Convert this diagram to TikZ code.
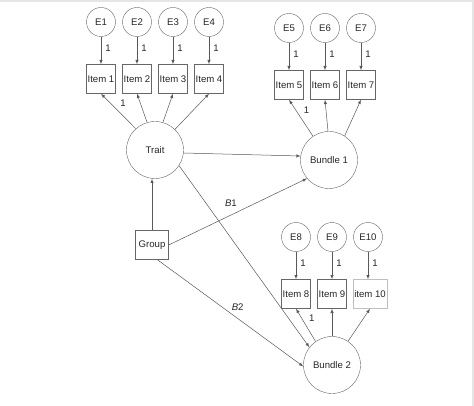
\documentclass[tikz,border=0pt]{standalone}
\usepackage{fontspec}
\setmainfont{Liberation Sans}
\usepackage{tikz}
\usetikzlibrary{arrows}

\begin{document}
\begin{tikzpicture}[x=1pt,y=-1pt,
    font=\fontsize{9.6}{11}\selectfont, text=black!85,
    lat/.style={circle,draw=black!60,minimum size=57pt,inner sep=0},
    err/.style={circle,draw=black!60,minimum size=29pt,inner sep=0},
    obs/.style={rectangle,draw=black!60,minimum width=29pt,minimum height=29pt,inner sep=0.5pt},
    arr/.style={draw=black!65,line width=0.5pt,-latex},
    lbl/.style={inner sep=1pt}]
    \useasboundingbox (0,0) rectangle (474,406);
    \fill[white] (0,0) rectangle (474,406);
    \fill[black!10] (0,0) rectangle (474,2);
    \fill[black!10] (472,0) rectangle (474,406);

    \node[err] (e1) at (101,22) {E1};
    \node[err] (e2) at (137,22) {E2};
    \node[err] (e3) at (173,22) {E3};
    \node[err] (e4) at (209,22) {E4};
    \node[obs] (item1) at (101,79) {Item 1};
    \node[obs] (item2) at (137,79) {Item 2};
    \node[obs] (item3) at (173,79) {Item 3};
    \node[obs] (item4) at (209,79) {Item 4};

    \node[err] (e5) at (289,28) {E5};
    \node[err] (e6) at (325,28) {E6};
    \node[err] (e7) at (361,28) {E7};
    \node[obs] (item5) at (289,85) {Item 5};
    \node[obs] (item6) at (325,85) {Item 6};
    \node[obs] (item7) at (361,85) {Item 7};

    \node[err] (e8) at (296,237) {E8};
    \node[err] (e9) at (332,237) {E9};
    \node[err] (e10) at (368,237) {E10};
    \node[obs] (item8) at (296,294) {Item 8};
    \node[obs] (item9) at (332,294) {Item 9};
    \node[obs,draw=black!25,minimum width=34pt] (item10) at (370,294) {item 10};

    \node[lat] (trait) at (155,150) {Trait};
    \node[lat] (bundle1) at (329,160) {Bundle 1};
    \node[lat] (bundle2) at (332,365) {Bundle 2};
    \node[obs,minimum width=33pt] (group) at (152,245) {Group};

    \draw[arr] (e1) -- (item1) node[lbl,pos=0.4,right=3pt] {1};
    \draw[arr] (e2) -- (item2) node[lbl,pos=0.4,right=3pt] {1};
    \draw[arr] (e3) -- (item3) node[lbl,pos=0.4,right=3pt] {1};
    \draw[arr] (e4) -- (item4) node[lbl,pos=0.4,right=3pt] {1};
    \draw[arr] (e5) -- (item5) node[lbl,pos=0.4,right=3pt] {1};
    \draw[arr] (e6) -- (item6) node[lbl,pos=0.4,right=3pt] {1};
    \draw[arr] (e7) -- (item7) node[lbl,pos=0.4,right=3pt] {1};
    \draw[arr] (e8) -- (item8) node[lbl,pos=0.4,right=3pt] {1};
    \draw[arr] (e9) -- (item9) node[lbl,pos=0.4,right=3pt] {1};
    \draw[arr] (e10) -- (e10 |- item10.north) node[lbl,pos=0.4,right=3pt] {1};

    \draw[arr] (trait.132) -- (item1.south) node[lbl,pos=0.6,xshift=8pt,yshift=4pt] {1};
    \draw[arr] (trait.106) -- (item2.south);
    \draw[arr] (trait.74) -- (item3.south);
    \draw[arr] (trait.46) -- (item4.south);

    \draw[arr] (bundle1.124) -- (item5.south) node[lbl,pos=0.6,xshift=8pt,yshift=4pt] {1};
    \draw[arr] (bundle1.92) -- (item6.south);
    \draw[arr] (bundle1.57) -- (item7.south);

    \draw[arr] (bundle2.125) -- (item8.south) node[lbl,pos=0.6,xshift=8pt,yshift=4pt] {1};
    \draw[arr] (bundle2.90) -- (item9.south);
    \draw[arr] (bundle2.56) -- (item10.south);

    \draw[arr] (trait.-6) -- (bundle1.172);
    \draw[arr] (group) -- (group |- trait.south);
    \draw[arr] (group.east) -- (bundle1.220) node[lbl,pos=0.45,above=7pt] {\textit{B}1};
    \draw[arr] (group.-70) -- (bundle2.183) node[lbl,pos=0.55,above=7pt] {\textit{B}2};
    \draw[arr] (trait.-33) -- (bundle2.142);
\end{tikzpicture}
\end{document}
